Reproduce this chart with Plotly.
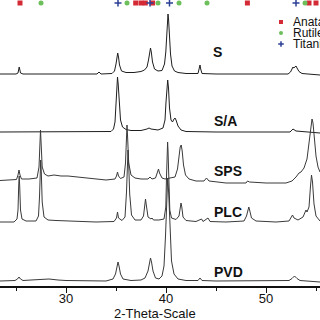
import plotly.graph_objects as go

# ---------------- data ----------------
samples = ["S", "S/A", "SPS", "PLC", "PVD"]

s_x = [23.4, 25.0, 25.2, 25.27, 25.32, 25.37, 25.45, 25.7, 28.0, 30.0, 33.1, 33.3, 33.5, 34.6,
       34.85, 35.0, 35.1, 35.17, 35.25, 35.35, 35.55, 36.0, 36.8, 37.5, 37.85, 38.1, 38.25, 38.38,
       38.45, 38.53, 38.65, 38.85, 39.2, 39.6, 39.85, 39.98, 40.08, 40.15, 40.2, 40.26, 40.34,
       40.45, 40.6, 40.85, 41.2, 42.0, 43.2, 43.33, 43.4, 43.47, 43.6, 45.0, 50.0, 52.2, 52.45,
       52.6, 52.7, 52.78, 52.9, 53.0, 53.1, 53.3, 53.6, 55.4]
s_i = [0, 0, 1, 5, 7, 5, 1, 0, 0, 0, 0, 2, 0, 0.5,
       3, 10, 18, 21, 17, 9, 3, 1.5, 1.5, 2.5, 4, 7, 14, 23,
       26, 22, 12, 5, 3, 3.5, 10, 22, 42, 56, 60, 54, 38,
       20, 8, 3, 1.5, 0.5, 0.5, 5, 9, 5, 0.5, 0, 0, 0, 2,
       5, 7, 6, 7, 8, 6, 2.5, 0.5, -1]

sa_x = [23.4, 30.0, 34.5, 34.75, 34.9, 35.0, 35.08, 35.15, 35.22, 35.32, 35.45, 35.65, 36.0,
        36.5, 37.5, 38.1, 38.3, 38.5, 39.2, 39.7, 39.9, 40.0, 40.1, 40.17, 40.25, 40.35, 40.5,
        40.65, 40.8, 40.9, 41.0, 41.2, 41.5, 42.0, 45.0, 52.4, 52.7, 53.0, 55.4]
sa_i = [0, 0, 0.5, 3, 10, 28, 48, 55, 48, 28, 12, 5, 2.5,
        1.5, 1.5, 3, 4, 3, 2, 4, 12, 30, 48, 52, 44, 24, 12,
        10, 13, 14, 12, 6, 2, 0.5, 0, 0, 3, 1, -1]

sps_x = [23.4, 24.5, 25.05, 25.2, 25.3, 25.4, 25.55, 26.3, 27.1, 27.3, 27.38, 27.45, 27.52,
         27.62, 27.85, 28.2, 28.8, 29.5, 30.2, 31.0, 32.0, 33.0, 34.0, 34.9, 35.05, 35.15, 35.25,
         35.45, 35.8, 35.95, 36.03, 36.1, 36.17, 36.27, 36.5, 36.9, 37.5, 38.2, 38.4, 38.6, 38.95,
         39.15, 39.25, 39.35, 39.6, 39.9, 40.9, 41.15, 41.3, 41.42, 41.52, 41.62, 41.75, 41.95,
         42.3, 43.0, 43.8, 44.05, 44.3, 46.0, 48.0, 48.15, 48.35, 50.0, 52.0, 52.6, 53.0, 53.3,
         53.5, 53.8, 54.1, 54.35, 54.5, 54.6, 54.7, 54.85, 55.0, 55.2, 55.4]
sps_i = [0.5, 1, 1.5, 6, 11, 6, 2, 2, 3, 14, 35, 51, 36,
         14, 7, 5, 6, 5, 5, 4, 3, 2, 1, 2, 5, 9, 5,
         2.5, 4, 18, 42, 56, 42, 18, 6, 3, 2, 2, 4, 2, 3,
         9, 12, 8, 3, 2, 4, 12, 26, 34, 36, 30, 16, 6,
         2, 0, 0, 3, 0, -2, -2, 0, -1, -2, -2, 0, 4, 8,
         9, 13, 22, 40, 56, 62, 58, 40, 25, 14, 9]

plc_x = [23.4, 24.8, 25.1, 25.2, 25.27, 25.32, 25.37, 25.45, 25.6, 26.0, 27.0, 27.25, 27.35,
         27.42, 27.47, 27.53, 27.62, 27.8, 28.2, 29.0, 30.0, 31.0, 33.0, 34.8, 35.05, 35.15,
         35.25, 35.6, 35.9, 36.05, 36.15, 36.2, 36.27, 36.37, 36.55, 36.9, 37.5, 37.75, 37.88,
         37.95, 38.03, 38.2, 38.5, 38.6, 38.75, 39.3, 39.8, 39.98, 40.05, 40.12, 40.16, 40.2,
         40.27, 40.38, 40.55, 41.0, 41.3, 41.42, 41.5, 41.58, 41.7, 42.0, 43.0, 43.55, 43.7,
         44.2, 44.4, 46.0, 47.8, 48.05, 48.2, 48.28, 48.36, 48.55, 49.0, 51.0, 52.3, 52.55,
         52.65, 52.8, 53.2, 53.7, 53.9, 54.0, 54.1, 54.3, 54.45, 54.55, 54.65, 54.8, 55.0, 55.4]
plc_i = [0, 0, 3, 12, 36, 46, 36, 12, 3, 1, 1, 6, 25,
         55, 62, 50, 20, 5, 2, 1.5, 1, 0.5, 0, 0.5, 4, 10,
         4, 1.5, 5, 30, 60, 72, 58, 28, 7, 2, 2, 6, 17,
         23, 17, 5, 3, 4, 2, 2, 3, 15, 45, 75, 80, 72,
         40, 12, 4, 2.5, 6, 15, 19, 15, 5, 1.5, 0.5, 3, 0.5,
         4, 0.5, 0, 1, 6, 13, 15, 12, 4, 1, 0, 1, 5,
         7, 4, 2, 5, 10, 12, 10, 15, 36, 47, 40, 18, 6, 1]

pvd_x = [23.4, 24.9, 25.15, 25.3, 25.45, 25.7, 26.5, 27.5, 28.3, 29.2, 30.0, 34.0, 34.7, 34.95,
         35.1, 35.2, 35.3, 35.45, 35.7, 36.5, 37.5, 37.9, 38.2, 38.35, 38.45, 38.55, 38.7, 38.95,
         39.3, 39.6, 39.8, 39.95, 40.07, 40.17, 40.27, 40.4, 40.55, 40.8, 41.2, 42.0, 43.2, 43.4,
         43.6, 45.0, 50.0, 52.3, 52.6, 52.85, 53.1, 53.4, 55.4]
pvd_i = [0, 0.5, 2, 4, 2, 0.5, 1, 1.5, 2, 1, 0.5, 0, 2, 7,
         15, 19, 15, 7, 2, 0.5, 1, 3, 10, 19, 23, 19, 10, 3,
         2, 5, 15, 45, 85, 103, 88, 50, 20, 7, 2, 0.5, 0.5, 3,
         0.5, 0, 0, 0.5, 2.5, 5, 2.5, 0.5, -1]

# reference phase positions (2-theta)
anatase_pos = [25.4, 36.97, 37.5, 37.93, 38.66, 48.14, 54.3, 55.0]
rutile_pos = [27.5, 36.1, 39.2, 41.3, 44.1, 53.9]
titanium_pos = [35.2, 38.4, 40.35, 53.0]
phase_names = ["Anatase", "Rutile", "Titanium"]
tick_vals = [30, 40, 50]
tick_text = ["30", "40", "50"]

# ---------------- layout / style ----------------
series = [
    (s_x, s_i, 212, "#1e1e1e"),
    (sa_x, sa_i, 154, "#1e1e1e"),
    (sps_x, sps_i, 105, "#3a3a3a"),
    (plc_x, plc_i, 64, "#3a3a3a"),
    (pvd_x, pvd_i, 5, "#3a3a3a"),
]
label_pos = [(45.1, 234), (45.9, 165), (46.2, 115), (46.2, 74), (46.2, 14)]

fig = go.Figure()
for (xs, ys, off, col) in series:
    fig.add_trace(go.Scatter(x=xs, y=[off + v for v in ys], mode="lines",
                             line=dict(color=col, width=1), showlegend=False,
                             hoverinfo="skip"))

red, green, blue = "#d42a35", "#6cbf5a", "#2b3f95"
top_y = 283
fig.add_trace(go.Scatter(x=anatase_pos, y=[top_y] * len(anatase_pos), mode="markers",
                         marker=dict(symbol="square", size=5, color=red),
                         showlegend=False, cliponaxis=False))
fig.add_trace(go.Scatter(x=rutile_pos, y=[top_y] * len(rutile_pos), mode="markers",
                         marker=dict(symbol="circle", size=5, color=green),
                         showlegend=False, cliponaxis=False))
fig.add_trace(go.Scatter(x=titanium_pos, y=[top_y] * len(titanium_pos), mode="markers",
                         marker=dict(symbol="cross-thin", size=5,
                                     line=dict(color=blue, width=1.5)),
                         showlegend=False, cliponaxis=False))

# legend (manual, cropped at right edge like the reference)
leg_y = [264, 253, 242]
fig.add_trace(go.Scatter(x=[51.5], y=[leg_y[0]], mode="markers",
                         marker=dict(symbol="square", size=4, color=red), showlegend=False))
fig.add_trace(go.Scatter(x=[51.5], y=[leg_y[1]], mode="markers",
                         marker=dict(symbol="circle", size=4, color=green), showlegend=False))
fig.add_trace(go.Scatter(x=[51.5], y=[leg_y[2]], mode="markers",
                         marker=dict(symbol="cross-thin", size=4,
                                     line=dict(color=blue, width=1.5)), showlegend=False))
for name, yy in zip(phase_names, leg_y):
    fig.add_annotation(x=52.5, y=yy, text=name, showarrow=False, xanchor="left",
                       yanchor="middle", font=dict(family="Liberation Sans, Arial", size=12,
                                                   color="#111"))

for name, (lx, ly) in zip(samples, label_pos):
    fig.add_annotation(x=lx, y=ly, text="<b>%s</b>" % name, showarrow=False,
                       xanchor="center", yanchor="middle",
                       font=dict(family="Liberation Sans, Arial", size=14, color="#111"))

fig.add_annotation(x=0.484, y=-0.096, xref="paper", yref="paper", text="2-Theta-Scale",
                   showarrow=False, xanchor="center", yanchor="middle",
                   font=dict(family="Liberation Sans, Arial", size=13, color="#111"))

fig.update_layout(
    width=320, height=320,
    margin=dict(l=0, r=0, t=0, b=34),
    paper_bgcolor="white", plot_bgcolor="white",
    xaxis=dict(range=[23.4, 55.4], showgrid=False, zeroline=False,
               showline=True, linecolor="#111", linewidth=1.5,
               ticks="outside", ticklen=5, tickwidth=1, tickcolor="#111",
               tickvals=tick_vals, ticktext=tick_text, ticklabelstandoff=-5,
               tickfont=dict(family="Liberation Sans, Arial", size=13, color="#111"),
               minor=dict(tickvals=[25, 35, 45, 55], ticks="outside", ticklen=3,
                          tickcolor="#111")),
    yaxis=dict(range=[0, 286], visible=False, showgrid=False, zeroline=False),
)

fig.write_html("out.html")
